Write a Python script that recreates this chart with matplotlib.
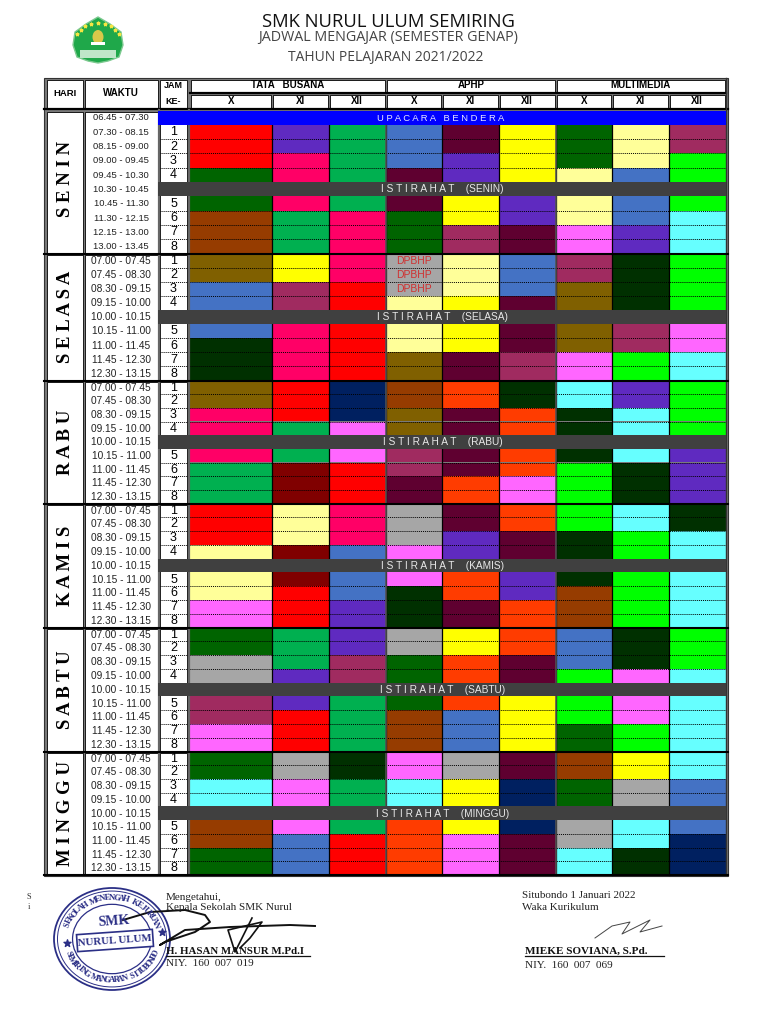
import numpy as np
import matplotlib
matplotlib.use('Agg')
import matplotlib.pyplot as plt
from matplotlib.patches import Rectangle, Polygon, Ellipse

palette = {
    'R': '#FF0000', 'P': '#5F2AC0', 'G': '#00B050', 'B': '#4472C4', 'M': '#5F0030',
    'Y': '#FFFF00', 'D': '#006400', 'L': '#FFFF99', 'W': '#A02B60', 'A': '#00FF00',
    'H': '#FF0066', 'N': '#963C00', 'O': '#806000', 'K': '#003000', 'C': '#66FFFF',
    'V': '#FF66FF', 'E': '#A6A6A6', 'F': '#FF3C00', 'T': '#800000', 'U': '#002060',
}

days = ['SENIN', 'SELASA', 'RABU', 'KAMIS', 'SABTU', 'MINGGU']

# one string per class column, one letter per lesson (1-8)
senin = ['RRRDDNNN', 'PPHHHGGG', 'GGGGGHHH', 'BBBMMDDD', 'MMPPYYWW', 'YYYYPPMM', 'DDDLLLVV', 'LLLBBBPP', 'WWAAACCC']
selasa = ['OOBBBKKK', 'YYWWHHHH', 'HHRRRRRR', 'EEELLLOO', 'LLLYYYMM', 'BBBMMMWW', 'WWOOOOVV', 'KKKKWWAA', 'AAAAVVCC']
rabu = ['OOHHHGGG', 'RRRGGTTT', 'UUUVVRRR', 'NNOOWWMM', 'FFMMMMFF', 'KKFFFFVV', 'CCKKKAAA', 'PPCCCKKK', 'AAAAPPPP']
kamis = ['RRRLLLVV', 'LLLTTRRR', 'HHHBBBPP', 'EEEVVKKK', 'MMPPFFMM', 'FFMMPPFF', 'AAKKKNNN', 'CCAAAAAA', 'KKCCCCCC']
sabtu = ['DDEEWWVV', 'GGGPPRRR', 'PPWWGGGG', 'EEDDDNNN', 'YYFFFBBB', 'FFMMYYYY', 'BBBAAADD', 'KKKVVVAA', 'AAACCCCC']
minggu = ['DDCCNNDD', 'EEVVVBBB', 'KKGGGRRR', 'VVCCFFFF', 'EEYYYVVV', 'MMUUUMMM', 'NNDDEECC', 'YYEECCKK', 'CCBBBUUU']
schedule = [senin, selasa, rabu, kamis, sabtu, minggu]

waktu_senin = ['06.45 - 07.30', '07.30 - 08.15', '08.15 - 09.00', '09.00 - 09.45', '09.45 - 10.30',
               '10.30 - 10.45', '10.45 - 11.30', '11.30 - 12.15', '12.15 - 13.00', '13.00 - 13.45']
waktu_lain = ['07.00 - 07.45', '07.45 - 08.30', '08.30 - 09.15', '09.15 - 10.00', '10.00 - 10.15',
              '10.15 - 11.00', '11.00 - 11.45', '11.45 - 12.30', '12.30 - 13.15']

jurusan = ['TATA   BUSANA', 'APHP', 'MULTIMEDIA']
kelas = ['X', 'XI', 'XII'] * 3

# layout, in pixels of the page
col_x = [190, 272, 329, 386, 442, 499, 556, 612, 669, 726]
day_y = [110.5, 253.5, 380.5, 503.5, 627.5, 751.5, 875]
x_hari, x_waktu, x_jam = 46, 84, 159

fig = plt.figure(figsize=(7.68, 10.24), dpi=100)
ax = fig.add_axes([0, 0, 1, 1])
ax.set_xlim(0, 768)
ax.set_ylim(1024, 0)
ax.axis('off')

sans = 'Liberation Sans'
serif = 'Liberation Serif'

# table background
ax.add_patch(Rectangle((44, 78), 684, 798, fc='#7a7a7a', ec='#333333', lw=0.8))
ax.add_patch(Rectangle((47, 80), 36, 28, fc='white', ec='black', lw=0.6))
ax.add_patch(Rectangle((85, 80), 73, 28, fc='white', ec='black', lw=0.6))
ax.add_patch(Rectangle((160, 80), 27, 28, fc='white', ec='black', lw=0.6))
ax.text(65, 93, 'HARI', family=sans, weight='bold', fontsize=6.8, ha='center', va='center')
ax.text(121, 93, 'WAKTU', family=sans, weight='bold', fontsize=7, ha='center', va='center')
ax.text(173.5, 86, 'JAM', family=sans, weight='bold', fontsize=6.5, ha='center', va='center')
ax.text(173.5, 101.5, 'KE-', family=sans, weight='bold', fontsize=6.5, ha='center', va='center')

for i, name in enumerate(jurusan):
    x0, x1 = col_x[i * 3] + 0.5, col_x[i * 3 + 3] - 1
    ax.add_patch(Rectangle((x0, 80), x1 - x0, 12.5, fc='white', ec='black', lw=0.6))
    ax.text((x0 + x1) / 2, 85.5, name, family=sans, weight='bold', fontsize=7, ha='center', va='center')
for i, name in enumerate(kelas):
    x0, x1 = col_x[i] + 0.5, col_x[i + 1] - 1
    ax.add_patch(Rectangle((x0, 94.5), x1 - x0, 13.5, fc='white', ec='black', lw=0.6))
    ax.text((x0 + x1) / 2, 101.5, name, family=sans, weight='bold', fontsize=7, ha='center', va='center')
ax.plot([190, 726], [93, 93], color='black', lw=1.6)
ax.plot([44, 728], [109.3, 109.3], color='black', lw=1.6)

rest_labels = ['(SENIN)', '(SELASA)', '(RABU)', '(KAMIS)', '(SABTU)', '(MINGGU)']

for d, name in enumerate(days):
    top, bottom = day_y[d], day_y[d + 1]
    n_rows = 10 if d == 0 else 9
    h = (bottom - top) / n_rows
    first = 1 if d == 0 else 0  # senin starts with the flag ceremony row
    labels = waktu_senin if d == 0 else waktu_lain

    ax.add_patch(Rectangle((47, top + 1), 36, bottom - top - 2, fc='white', ec='black', lw=0.6))
    ax.add_patch(Rectangle((85, top + 1), 73, bottom - top - 2, fc='white', ec='black', lw=0.6))
    ax.add_patch(Rectangle((160, top + 1), 27, bottom - top - 2, fc='white', ec='black', lw=0.6))
    ax.text(65, (top + bottom) / 2 - (3 if d == 0 else 0), ' '.join(name), family=serif, weight='bold',
            fontsize=13.5, rotation=90, ha='center', va='center')

    for r, lab in enumerate(labels):
        ax.text(121, top + h * (r + 0.5) + 0.3, lab, family=sans, fontsize=6.8 if d == 0 else 7.3,
                ha='center', va='center', color='#222222')

    rest_row = first + 4
    lesson = 0
    for r in range(first, n_rows):
        y0 = top + h * r
        if r == rest_row:
            continue
        ax.text(173.5, y0 + h / 2 + 0.3, str(lesson + 1), family=sans, fontsize=9, ha='center', va='center')
        for c, codes in enumerate(schedule[d]):
            ax.add_patch(Rectangle((col_x[c], y0), col_x[c + 1] - col_x[c], h, fc=palette[codes[lesson]], ec='none'))
            if d == 1 and c == 3 and lesson < 3:
                ax.text((col_x[c] + col_x[c + 1]) / 2, y0 + h / 2 + 0.3, 'DPBHP', family=sans, fontsize=7.5,
                        color='#D03030', ha='center', va='center')
        lesson += 1

    # dotted lesson separators
    for r in range(first + 1, n_rows):
        if r in (rest_row, rest_row + 1):
            continue
        ax.plot([160, 726], [top + h * r] * 2, color='black', lw=0.7, ls=(0, (1, 1)))

    # column separators
    for x in col_x[1:-1]:
        ax.plot([x, x], [top + first * h, bottom], color='black', lw=0.9)
    for x in (col_x[3], col_x[6]):
        ax.plot([x, x], [top + first * h, bottom], color='#555555', lw=1.4, alpha=0.8)

    # break row
    yr = top + h * rest_row
    ax.add_patch(Rectangle((158, yr), 568, h, fc='#404040', ec='none', zorder=3))
    ax.text(442.5, yr + h / 2 + 0.3, 'I S T I R A H A T    ' + rest_labels[d], family=sans, fontsize=7.3,
            color='#E8E8E8', va='center', ha='center', zorder=4)

    if d == 0:
        ax.add_patch(Rectangle((158, top + 0.5), 568, h, fc='#0000FF', ec='none', zorder=3))
        ax.text(441, top + h / 2 + 0.5, 'U P A C A R A   B E N D E R A', family=sans, fontsize=6.8,
                color='#E8E8FF', ha='center', va='center', zorder=4)

    ax.plot([44, 728], [bottom, bottom], color='black', lw=1.5, zorder=5)

# vertical gray rails
for x in (159, 188.5):
    ax.plot([x, x], [110, 875], color='#666666', lw=1.6, zorder=2)
ax.plot([726, 726], [78, 875], color='#333333', lw=1)

# heading
ax.text(388, 22, 'SMK NURUL ULUM SEMIRING', family='Open Sans', fontsize=13.3, ha='center', va='center', color='#111111')
ax.text(388, 38, 'JADWAL MENGAJAR (SEMESTER GENAP)', family='Open Sans', fontsize=10.3, ha='center', va='center', color='#444444')
ax.text(386, 57, 'TAHUN PELAJARAN 2021/2022', family='Open Sans', fontsize=10, ha='center', va='center', color='#444444')

# school logo
ax.add_patch(Polygon([(98, 17), (110, 24), (121, 32), (123, 45), (119, 57), (108, 61), (98, 63), (88, 61), (77, 57), (73, 45), (75, 32), (86, 24)],
                     closed=True, fc='#1FA84A', ec='#7CC98F', lw=1))
ax.add_patch(Ellipse((98, 37), 11, 14, fc='#D9C84A', ec='none'))
ax.add_patch(Rectangle((91, 42), 14, 3, fc='white', ec='none'))
ax.add_patch(Rectangle((80, 50), 36, 8, fc='#BFE6C8', ec='none'))
star_a = np.linspace(200, 340, 9)
ax.scatter(98 + 22 * np.cos(np.radians(star_a)), 40 + 17 * np.sin(np.radians(star_a)), s=5, marker='*', color='#F5E642')

# signature block
ax.text(29, 897, 'S', family=serif, fontsize=6, ha='center', va='center', color='#333333')
ax.text(29, 907, 'i', family=serif, fontsize=6, ha='center', va='center', color='#333333')
ax.text(166, 897, 'Mengetahui,', family=serif, fontsize=8, va='center', color='#222222')
ax.text(166, 908, 'Kepala Sekolah SMK Nurul', family=serif, fontsize=8, va='center', color='#222222')
ax.text(166, 951, 'H. HASAN MANSUR M.Pd.I', family=serif, weight='bold', fontsize=7.8, va='center', color='#111111')
ax.plot([166, 310], [955.5, 955.5], color='#111111', lw=0.9)
ax.text(166, 963, 'NIY.  160  007  019', family=serif, fontsize=8, va='center', color='#222222')

ax.text(522, 896, 'Situbondo 1 Januari 2022', family=serif, fontsize=8, va='center', color='#222222')
ax.text(522, 907, 'Waka Kurikulum', family=serif, fontsize=8, va='center', color='#222222')
ax.text(525, 951, 'MIEKE SOVIANA, S.Pd.', family=serif, weight='bold', fontsize=8, va='center', color='#111111')
ax.plot([525, 664], [956, 956], color='#111111', lw=0.9)
ax.text(525, 965, 'NIY.  160  007  069', family=serif, fontsize=8, va='center', color='#222222')

# stamp
ink = '#2B2F86'
cx, cy, rx, ry = 112, 939, 58, 51
for k, lw in ((1.0, 1.3), (0.94, 0.7), (0.68, 0.9)):
    ax.add_patch(Ellipse((cx, cy), 2 * rx * k, 2 * ry * k, fc='none', ec=ink, lw=lw, ls='-'))


def ring_text(s, a0, a1, upright):
    for ch, a in zip(s, np.linspace(a0, a1, len(s))):
        t = np.radians(a)
        x = cx + rx * 0.81 * np.cos(t)
        y = cy + ry * 0.81 * np.sin(t)
        rot = -a - 90 if upright else 90 - a
        ax.text(x, y, ch, family=serif, weight='bold', fontsize=6.2, color=ink, rotation=rot, ha='center', va='center')


ring_text('SEKOLAH MENENGAH KEJURUAN', 200, 340, True)
ring_text('SEMIRING MANGARAN SITUBONDO', 160, 20, False)
ax.add_patch(Rectangle((77, 932), 76, 17, fc='white', ec=ink, lw=1.2, angle=-4, rotation_point='center'))
ax.text(115, 940.5, 'NURUL ULUM', family=serif, weight='bold', fontsize=7.8, color=ink, ha='center', va='center', rotation=4)
ax.text(114, 921, 'SMK', family=serif, weight='bold', fontsize=10, color=ink, ha='center', va='center', rotation=4)
ax.scatter([67, 162], [943, 932], s=28, marker='*', color=ink)

# signatures
sig_x = [123, 150, 185, 205, 210, 195, 165, 160, 185, 230, 260, 290, 315]
sig_y = [920, 912, 910, 915, 922, 932, 942, 945, 930, 927, 926, 925, 926]
ax.plot(sig_x, sig_y, color='#111111', lw=1.4)
ax.plot([252, 235, 228, 262, 250, 240], [918, 952, 930, 922, 938, 948], color='#111111', lw=1.2)
sig2_x = [595, 612, 630, 622, 650, 640, 662]
sig2_y = [938, 926, 922, 934, 920, 932, 926]
ax.plot(sig2_x, sig2_y, color='#444444', lw=0.7)

fig.savefig('out.png', dpi=100)
